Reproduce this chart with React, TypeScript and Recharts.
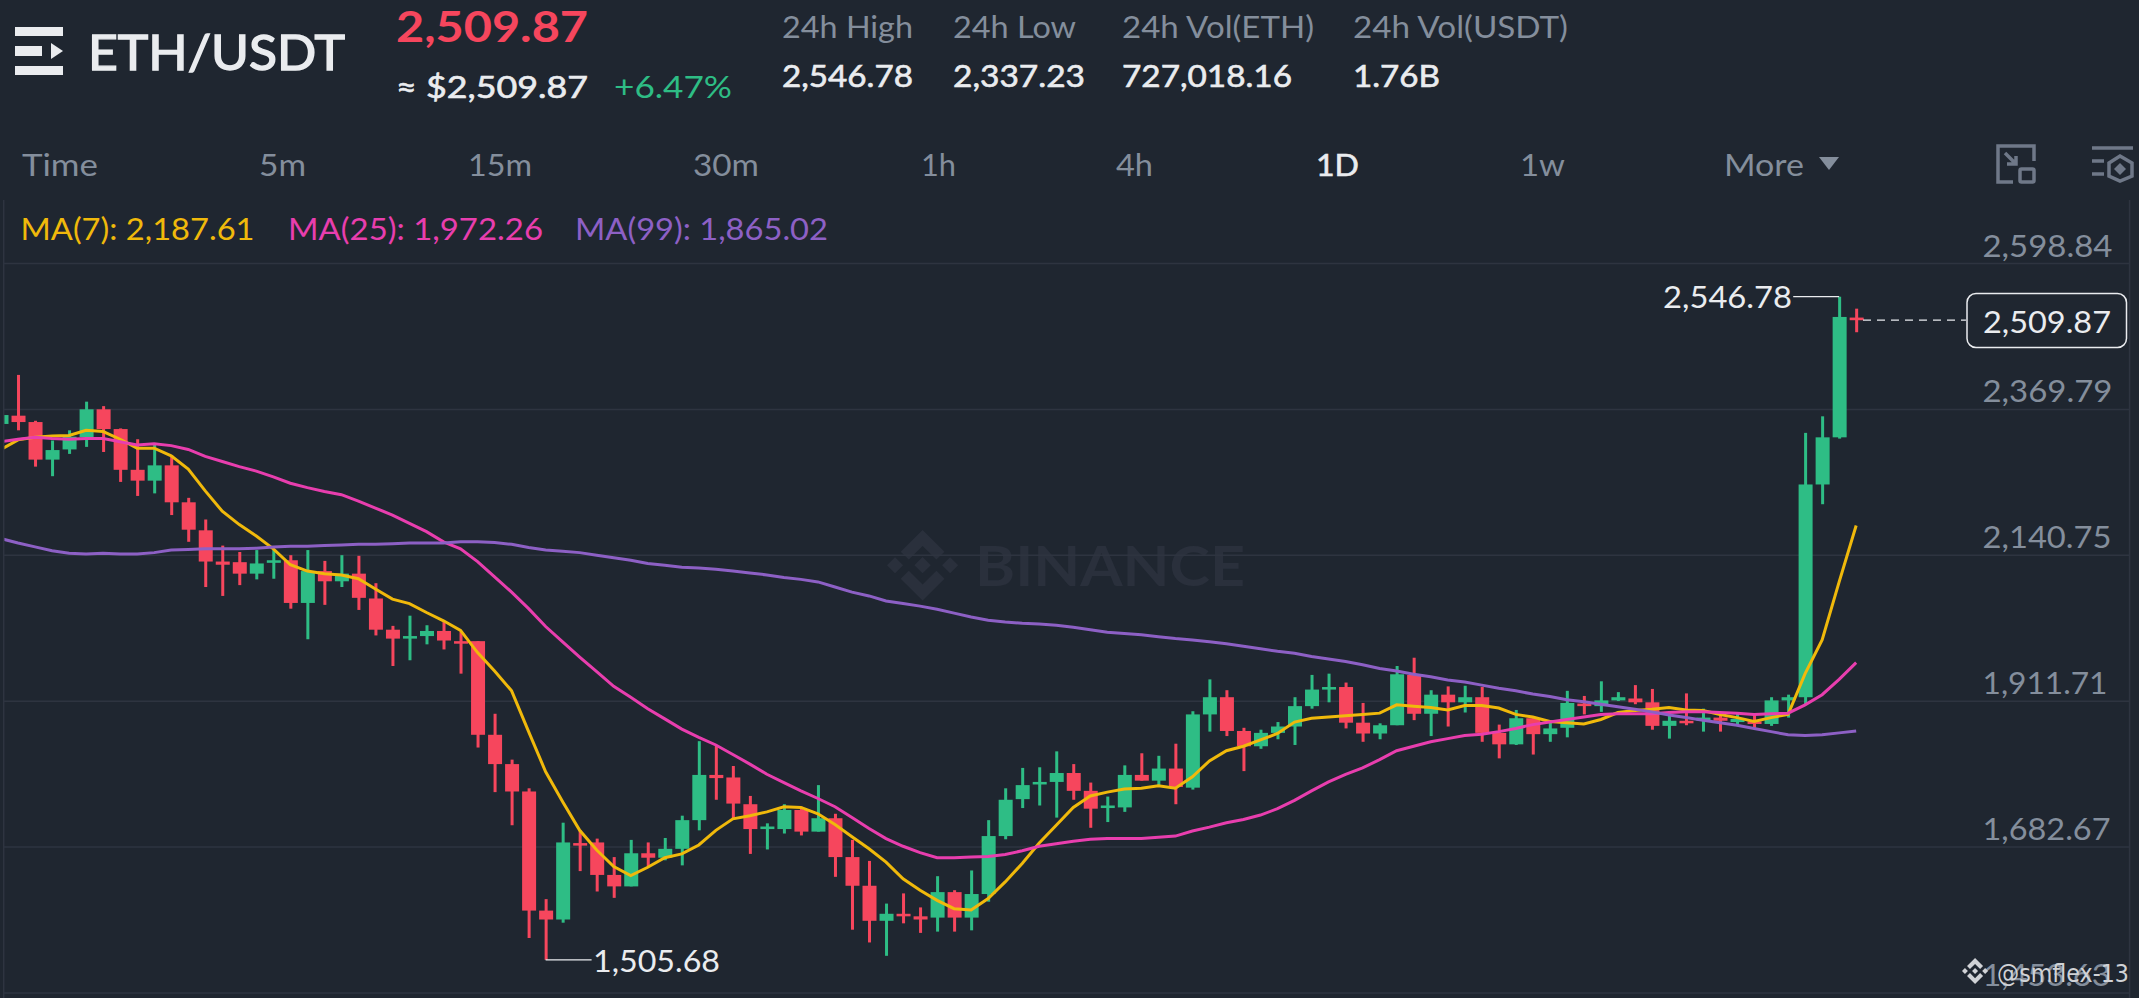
import React from "react";
import { ComposedChart, Bar, Line, XAxis, YAxis, CartesianGrid, ReferenceLine } from "recharts";

const opens = [2347,2360,2350,2291,2307,2326,2370,2339,2275,2258,2282,2224,2180,2131,2130,2112,2129,2133,2066,2116,2100,2112,2073,2024,2010,2014,2022,2006,2006,1859,1813,1770,1583,1569,1689,1690,1639,1621,1673,1666,1680,1725,1796,1792,1750,1711,1711,1741,1707,1728,1667,1622,1567,1578,1574,1572,1612,1572,1609,1700,1758,1781,1785,1799,1771,1744,1745,1796,1787,1806,1776,1891,1918,1865,1841,1862,1872,1904,1930,1934,1878,1861,1874,1953,1892,1922,1910,1918,1862,1844,1885,1860,1870,1908,1904,1913,1916,1910,1873,1881,1881,1886,1879,1880,1876,1913,1918,2252,2326,2514];
const highs = [2369,2424,2352,2321,2337,2382,2375,2340,2323,2314,2298,2231,2197,2156,2146,2149,2149,2141,2149,2132,2141,2140,2097,2030,2046,2031,2036,2021,2006,1892,1820,1775,1601,1721,1709,1696,1667,1694,1690,1697,1732,1849,1842,1810,1763,1720,1750,1746,1780,1735,1694,1661,1594,1610,1588,1637,1615,1646,1725,1775,1807,1808,1833,1813,1784,1762,1811,1830,1826,1845,1896,1946,1929,1870,1867,1879,1918,1953,1955,1941,1909,1877,1967,1980,1929,1935,1936,1934,1875,1898,1887,1882,1928,1920,1943,1926,1937,1931,1895,1924,1900,1895,1892,1890,1918,1922,2333,2359,2546.78,2528];
const lows = [2343,2337,2280,2265,2300,2311,2303,2256,2234,2238,2204,2162,2091,2077,2094,2103,2104,2057,2009,2063,2091,2055,2015,1967,1976,2001,1993,1955,1839,1769,1717,1540,1505.68,1564,1645,1613,1603,1621,1652,1662,1654,1709,1757,1728,1672,1679,1704,1701,1707,1636,1553,1533,1512,1563,1548,1550,1550,1552,1597,1695,1744,1748,1729,1757,1713,1722,1738,1787,1780,1750,1773,1864,1857,1802,1837,1852,1843,1900,1910,1869,1848,1852,1874,1882,1857,1872,1894,1848,1822,1843,1828,1848,1855,1891,1895,1912,1907,1867,1853,1874,1864,1864,1876,1870,1873,1886,1907,2221,2324,2491];
const closes = [2361,2350,2291,2306,2327,2370,2339,2275,2258,2282,2224,2181,2131,2126,2112,2128,2133,2066,2116,2100,2112,2074,2024,2010,2014,2022,2007,2002,1859,1813,1770,1583,1569,1690,1685,1639,1621,1673,1666,1680,1725,1796,1791,1751,1711,1715,1741,1707,1728,1667,1622,1567,1578,1574,1569,1612,1572,1609,1700,1757,1780,1785,1799,1771,1743,1748,1796,1787,1806,1777,1891,1918,1865,1841,1862,1872,1904,1930,1934,1878,1861,1874,1954,1892,1922,1910,1918,1862,1844,1885,1860,1869,1909,1904,1913,1918,1910,1873,1881,1878,1886,1881,1884,1876,1913,1918,2252,2326,2515,2509.87];
const ma7 = [2307,2322,2326,2328,2329,2337,2335,2323,2309,2309,2297,2276,2242,2210,2189,2171,2151,2126,2116,2112,2110,2104,2088,2072,2065,2051,2038,2023,1988,1959,1928,1864,1801,1754,1709,1678,1652,1638,1651,1666,1672,1686,1709,1727,1732,1738,1746,1745,1735,1718,1699,1680,1659,1633,1615,1599,1586,1584,1602,1628,1657,1689,1717,1745,1763,1769,1774,1775,1779,1775,1793,1818,1834,1841,1851,1861,1879,1885,1887,1889,1891,1893,1906,1904,1902,1898,1905,1905,1901,1891,1887,1880,1878,1876,1883,1894,1897,1899,1902,1898,1897,1891,1886,1880,1886,1891,1955,2008,2099,2187.61];
const ma25 = [2319,2323,2326,2324,2323,2324,2324,2319,2314,2316,2313,2307,2296,2288,2280,2273,2264,2254,2247,2241,2236,2226,2215,2204,2191,2178,2162,2151,2131,2107,2083,2057,2029,2005,1981,1958,1935,1918,1900,1884,1868,1855,1843,1828,1813,1797,1784,1771,1759,1746,1729,1712,1696,1684,1674,1666,1666,1667,1668,1671,1677,1684,1688,1692,1695,1696,1696,1696,1698,1700,1708,1714,1721,1726,1733,1743,1756,1771,1785,1797,1807,1820,1834,1841,1848,1853,1858,1860,1864,1869,1875,1879,1883,1887,1891,1892,1892,1892,1894,1895,1895,1894,1893,1891,1892,1893,1906,1922,1946,1972.26];
const ma99 = [2167,2160,2154,2148,2144,2143,2144,2143,2143,2145,2149,2150,2151,2151,2151,2152,2154,2155,2155,2156,2157,2158,2158,2159,2160,2160,2160,2162,2162,2161,2158,2153,2149,2147,2145,2141,2137,2133,2128,2125,2122,2121,2119,2116,2113,2110,2106,2103,2099,2091,2083,2077,2069,2065,2061,2056,2050,2044,2039,2036,2034,2033,2031,2028,2024,2020,2018,2016,2013,2010,2008,2005,2002,1998,1994,1990,1987,1982,1978,1974,1969,1963,1959,1954,1950,1945,1942,1937,1932,1928,1923,1919,1914,1911,1907,1903,1899,1895,1890,1886,1882,1878,1874,1869,1864,1859,1858,1859,1862,1865.02];
const priceTicks = [1453.63, 1682.67, 1911.71, 2140.75, 2369.79, 2598.84];
const tickWidths = [128, 128, 125, 129, 130, 130];
const timeTicks = [34, 76];
const lastPrice = 2509.87;
const highPrice = 2546.78;
const lowPrice = 1505.68;

const rows = opens.map((o, i) => ({ i, open: o, high: highs[i], low: lows[i], close: closes[i], ma7: ma7[i], ma25: ma25[i], ma99: ma99[i] }));

const GREEN = "#2EBD85";
const RED = "#F6465D";
const GRID = "#2E3440";
const BG = "#1F2630";
const WHITE = "#EAECEF";
const GRAY = "#848E9C";
const FONT = "Lato, sans-serif";
const LOGO = "M38.73 53.2l24.59-24.58 24.6 24.6 14.3-14.31L63.32 0l-38.9 38.9zM0 63.31l14.3-14.31 14.31 14.31-14.31 14.3zM38.73 73.41l24.59 24.59 24.6-24.6 14.31 14.29-38.9 38.91-38.91-38.88-.02-.02zM98 63.31l14.3-14.31 14.31 14.3-14.31 14.32zM77.83 63.3L63.32 48.78 52.59 59.51l-1.24 1.23-2.54 2.54 14.51 14.5 14.51-14.47z";

const money = (v: number) => v.toLocaleString("en-US", { minimumFractionDigits: 2, maximumFractionDigits: 2 });

function Candle(props: any) {
  const { x, y, width, height, payload } = props;
  const { open, close, high, low } = payload;
  const color = close >= open ? GREEN : RED;
  const perUnit = height / (high - low);
  const top = y + (high - Math.max(open, close)) * perUnit;
  const bodyH = Math.max(2.5, Math.abs(open - close) * perUnit);
  const cx = x + width / 2;
  return (
    <g>
      <rect x={cx - 1.5} y={y} width={3} height={height} fill={color} />
      <rect x={x} y={top} width={width} height={bodyH} fill={color} />
    </g>
  );
}

function PriceTick(props: any) {
  const { y, payload, index } = props;
  return (
    <text x={1982.5} y={y - 7} fontFamily={FONT} fontSize={30} fill={GRAY} textLength={tickWidths[index]} lengthAdjust="spacingAndGlyphs">
      {money(payload.value)}
    </text>
  );
}

function T({ x, y, w, s = 30, c = WHITE, b = 400, sw = 0.6, children }: any) {
  const medium = b === 500;
  return (
    <text x={x} y={y} fontFamily={FONT} fontSize={s} fill={c} fontWeight={medium ? 400 : b} stroke={medium ? c : "none"} strokeWidth={medium ? sw : 0} textLength={w} lengthAdjust="spacingAndGlyphs">
      {children}
    </text>
  );
}

const layer: React.CSSProperties = { position: "absolute", left: 0, top: 0 };

export default function App() {
  return (
    <div style={{ position: "absolute", left: 0, top: 0, width: 2139, height: 998, background: BG, overflow: "hidden" }}>
      <svg width={2139} height={998} style={layer}>
        <g transform="translate(887,530) scale(0.562,0.556)"><path d={LOGO} fill="#2A303C" /></g>
        <T x={975} y={586} w={270} s={56} c="#2A303C" b={700}>BINANCE</T>
      </svg>
      <div style={layer}>
        <ComposedChart width={2139} height={998} data={rows} margin={{ top: 200, right: 10, bottom: 5, left: 4 }}>
          <CartesianGrid stroke={GRID} strokeWidth={1.5} horizontalValues={priceTicks} verticalValues={timeTicks} />
          <XAxis dataKey="i" type="number" domain={[0.176, 125.03]} allowDataOverflow ticks={timeTicks} tick={false} axisLine={false} tickLine={false} height={0} />
          <YAxis orientation="right" mirror type="number" domain={[1453.63, 2698.6]} allowDataOverflow ticks={priceTicks} tick={<PriceTick />} axisLine={false} tickLine={false} width={160} interval={0} />
          <Bar dataKey={(d: any) => [d.low, d.high]} barSize={14} shape={<Candle />} isAnimationActive={false} />
          <Line dataKey="ma7" type="linear" stroke="#F0B90B" strokeWidth={3} dot={false} isAnimationActive={false} />
          <Line dataKey="ma25" type="linear" stroke="#E83EAE" strokeWidth={3} dot={false} isAnimationActive={false} />
          <Line dataKey="ma99" type="linear" stroke="#8D60C5" strokeWidth={3} dot={false} isAnimationActive={false} />
          <ReferenceLine segment={[{ x: 109.4, y: lastPrice }, { x: 115.45, y: lastPrice }]} stroke={WHITE} strokeWidth={1.2} strokeDasharray="8 6" />
          <ReferenceLine segment={[{ x: 105.3, y: highPrice }, { x: 108, y: highPrice }]} stroke={WHITE} strokeWidth={1.2} />
          <ReferenceLine segment={[{ x: 32, y: lowPrice }, { x: 34.7, y: lowPrice }]} stroke={WHITE} strokeWidth={1.2} />
        </ComposedChart>
      </div>
      <svg width={2139} height={998} style={layer}>
        <line x1={3.7} y1={200} x2={3.7} y2={998} stroke={GRID} strokeWidth={1.5} />
        <line x1={2129.6} y1={200} x2={2129.6} y2={998} stroke={GRID} strokeWidth={1.5} />

        {/* menu icon */}
        <rect x={15} y={27} width={48} height={9} fill={WHITE} />
        <rect x={15} y={46} width={27} height={10} fill={WHITE} />
        <path d="M51 43 L63 51 L51 59 Z" fill={WHITE} />
        <rect x={15} y={66} width={48} height={9} fill={WHITE} />

        <T x={88} y={70} w={257} s={48} b={500} sw={1.4}>ETH/USDT</T>
        <T x={396} y={42} w={192} s={42} c={RED} b={700}>2,509.87</T>
        <T x={396} y={98} w={192} s={30} b={500}>≈ $2,509.87</T>
        <T x={614} y={98} w={118} s={30} c={GREEN}>+6.47%</T>

        <T x={782} y={38} w={131} c={GRAY}>24h High</T>
        <T x={953} y={38} w={123} c={GRAY}>24h Low</T>
        <T x={1122} y={38} w={192} c={GRAY}>24h Vol(ETH)</T>
        <T x={1353} y={38} w={215} c={GRAY}>24h Vol(USDT)</T>
        <T x={782} y={87} w={131} b={500}>2,546.78</T>
        <T x={953} y={87} w={132} b={500}>2,337.23</T>
        <T x={1122} y={87} w={170} b={500}>727,018.16</T>
        <T x={1353} y={87} w={87} b={500}>1.76B</T>

        <T x={22} y={176} w={76} s={31} c={GRAY}>Time</T>
        <T x={259} y={176} w={47} s={31} c={GRAY}>5m</T>
        <T x={468} y={176} w={64} s={31} c={GRAY}>15m</T>
        <T x={693} y={176} w={66} s={31} c={GRAY}>30m</T>
        <T x={921} y={176} w={35} s={31} c={GRAY}>1h</T>
        <T x={1116} y={176} w={37} s={31} c={GRAY}>4h</T>
        <T x={1316} y={176} w={43} s={31} b={500}>1D</T>
        <T x={1520} y={176} w={45} s={31} c={GRAY}>1w</T>
        <T x={1724} y={176} w={80} s={31} c={GRAY}>More</T>
        <path d="M1819 157 L1839 157 L1829 170 Z" fill={GRAY} />

        {/* toolbar icons */}
        <g fill="none" stroke="#6F7888" strokeWidth={3.5}>
          <path d="M2013 182 H1998 V146 H2034 V161" />
          <rect x={2020} y={169} width={14} height={13} rx={1.5} />
          <path d="M2005 153 L2016 164 M2016 156 V164 H2007" />
          <path d="M2092 148 H2133" />
          <path d="M2092 161 H2104 M2092 174 H2104" />
          <path d="M2120 156 L2132 163 V176 L2120 181 L2109 176 V163 Z" />
        </g>
        <path d="M2120 163 L2126 169 L2120 175 L2114 169 Z" fill="#6F7888" />

        <T x={20.5} y={240} w={234} c="#F0B90B">MA(7): 2,187.61</T>
        <T x={288} y={240} w={255} c="#E83EAE">MA(25): 1,972.26</T>
        <T x={575} y={240} w={253} c="#8D60C5">MA(99): 1,865.02</T>

        <T x={1663} y={308} w={129}>2,546.78</T>
        <T x={593} y={972} w={127}>1,505.68</T>

        <rect x={1967} y={293.5} width={159.5} height={54} rx={9} fill={BG} stroke={WHITE} strokeWidth={1.5} />
        <T x={1983} y={333} w={128}>2,509.87</T>

        <g transform="translate(1962,958) scale(0.206)"><path d={LOGO} fill="#D0D2D6" /></g>
        <text x={1997} y={982} fontFamily="DejaVu Sans, sans-serif" fontSize={25} fill="#D0D2D6" textLength={132} lengthAdjust="spacingAndGlyphs">@smflex-13</text>
      </svg>
    </div>
  );
}
